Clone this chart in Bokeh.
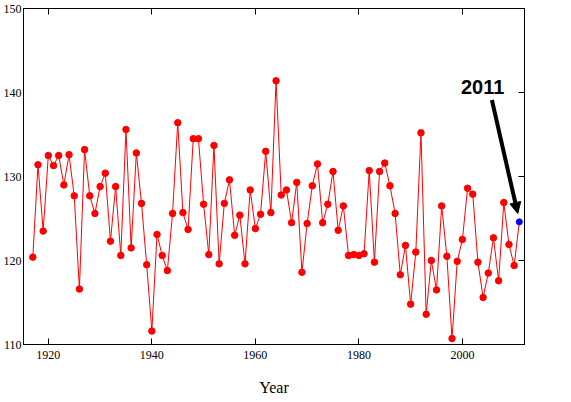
from bokeh.plotting import figure
from bokeh.models import (LinearAxis, FixedTicker, Arrow, NormalHead, Label,
                          CustomJSTickFormatter, Range1d)
from bokeh.embed import file_html
from bokeh.resources import INLINE

years = list(range(1917, 2012))
values = [
    120.4, 131.4, 123.5, 132.5, 131.3, 132.5, 129.0, 132.6, 127.7, 116.6,
    133.2, 127.7, 125.6, 128.8, 130.4, 122.3, 128.8, 120.6, 135.6, 121.5,
    132.8, 126.8, 119.5, 111.6, 123.1, 120.6, 118.8, 125.6, 136.4, 125.7,
    123.7, 134.5, 134.5, 126.7, 120.7, 133.7, 119.6, 126.8, 129.6, 123.0,
    125.4, 119.6, 128.4, 123.8, 125.5, 133.0, 125.7, 141.4, 127.8, 128.4,
    124.5, 129.3, 118.6, 124.4, 128.9, 131.5, 124.5, 126.7, 130.6, 123.6,
    126.5, 120.6, 120.7, 120.6, 120.8, 130.7, 119.8, 130.6, 131.6, 128.9,
    125.6, 118.3, 121.8, 114.8, 121.0, 135.2, 113.6, 120.0, 116.5, 126.5,
    120.5, 110.7, 119.9, 122.5, 128.6, 127.9, 119.8, 115.6, 118.5, 122.7,
    117.6, 126.9, 121.9, 119.4, 124.6,
]
x_ticks = [1920, 1940, 1960, 1980, 2000]
y_ticks = [110, 120, 130, 140, 150]
highlight_label = "2011"

p = figure(frame_width=501, frame_height=336,
           x_range=Range1d(1915.2, 2012.0), y_range=Range1d(110, 150),
           output_backend="svg", toolbar_location=None,
           min_border_left=0, min_border_right=30, min_border_top=8,
           min_border_bottom=0, x_axis_label="Year")
p.grid.visible = False
p.outline_line_color = "black"
p.outline_line_alpha = 1.0
p.outline_line_width = 1
p.background_fill_color = "white"
p.border_fill_color = "white"

tick_font = "Liberation Serif"

xa = p.xaxis[0]
xa.ticker = FixedTicker(ticks=x_ticks)
xa.major_tick_in = 6
xa.major_tick_out = 0
xa.minor_tick_line_color = None
xa.major_label_standoff = 6
xa.major_label_text_font = tick_font
xa.major_label_text_font_size = "12px"
xa.major_label_text_color = "black"
xa.axis_label_text_font = tick_font
xa.axis_label_text_font_size = "16px"
xa.axis_label_text_font_style = "normal"
xa.axis_label_text_color = "black"
xa.axis_label_standoff = 17
xa.axis_line_color = "black"

ya = p.yaxis[0]
ya.ticker = FixedTicker(ticks=y_ticks)
ya.major_tick_in = 0
ya.major_tick_out = 0
ya.major_tick_line_color = None
ya.minor_tick_line_color = None
ya.major_label_standoff = 2
ya.major_label_text_font = tick_font
ya.major_label_text_font_size = "12px"
ya.major_label_text_color = "black"
ya.axis_line_color = "black"

top = LinearAxis(ticker=FixedTicker(ticks=x_ticks),
                 formatter=CustomJSTickFormatter(code="return ''"),
                 major_tick_in=6, major_tick_out=0, major_label_standoff=0,
                 minor_tick_line_color=None, axis_line_color="black")
p.add_layout(top, "above")
right = LinearAxis(ticker=FixedTicker(ticks=y_ticks),
                   formatter=CustomJSTickFormatter(code="return ''"),
                   major_tick_in=6, major_tick_out=0, major_label_standoff=0,
                   minor_tick_line_color=None, axis_line_color="black")
p.add_layout(right, "right")

p.line(years, values, line_color="red", line_width=1)
p.scatter(years[:-1], values[:-1], size=6.5, fill_color="red", line_color="red")
p.scatter(years[-1:], values[-1:], size=6, fill_color="blue", line_color="blue")

lx, ly = years[-1], values[-1]
p.add_layout(Arrow(end=NormalHead(size=11, fill_color="black", line_color="black"),
                   x_start=lx - 5.3, y_start=ly + 14.5,
                   x_end=lx - 0.3, y_end=ly + 1.0,
                   line_color="black", line_width=4))
p.add_layout(Label(x=lx - 7.1, y=ly + 16.0, text=highlight_label,
                   text_font="Liberation Sans", text_font_style="bold",
                   text_font_size="20px", text_align="center",
                   text_baseline="alphabetic", text_color="black"))

open("out.html", "w").write(file_html(p, INLINE))
